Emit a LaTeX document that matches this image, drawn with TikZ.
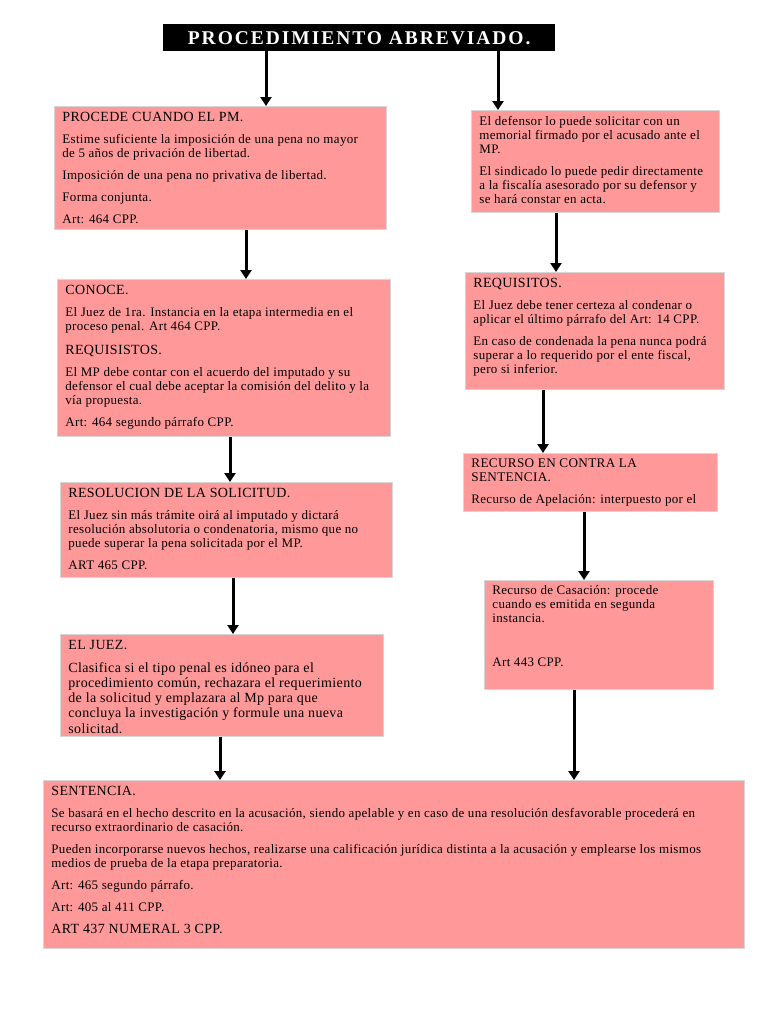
\documentclass[tikz,border=0pt]{standalone}
\usepackage{fontspec}
\setmainfont{Liberation Serif}[LetterSpace=2.5]
\newfontfamily\fuentetitulo{Liberation Serif}[LetterSpace=10]
\usetikzlibrary{arrows.meta}

\definecolor{rosa}{RGB}{255,153,153}
\definecolor{borde}{RGB}{214,214,214}

% texto de cada caja: ancho, alto, contenido
\newcommand{\caja}[3]{\parbox[t][#2][t]{#1}{\raggedright\fontsize{13bp}{14bp}\selectfont\setlength{\parskip}{8bp}#3}}
\newcommand{\encab}[1]{{\fontsize{14bp}{14bp}\selectfont #1}}

\begin{document}
\begin{tikzpicture}[x=1bp,y=-1bp,
    paso/.style={draw=borde, line width=0.8bp, fill=rosa, anchor=north west,
        inner xsep=8bp, inner ysep=5.5bp},
    flecha/.style={line width=3bp, -{Triangle[width=11bp,length=9bp]}}]
    \useasboundingbox (0,0) rectangle (768,1024);

    \node[fill=black, text=white, anchor=north west, minimum width=392bp, minimum height=27bp,
        inner sep=0pt, font=\fuentetitulo\fontsize{19.5bp}{20bp}\selectfont\bfseries] (titulo) at (163,24)
        {PROCEDIMIENTO ABREVIADO.};

    % columna izquierda
    \node[paso] (a1) at (54,106) {\caja{316bp}{112bp}{\encab{PROCEDE CUANDO EL PM.}

        Estime suficiente la imposición de una pena no mayor\\de 5 años de privación de libertad.

        Imposición de una pena no privativa de libertad.

        Forma conjunta.

        Art: 464 CPP.}};
    \node[paso] (a2) at (57,279) {\caja{317bp}{146bp}{\encab{CONOCE.}

        El Juez de 1ra. Instancia en la etapa intermedia en el\\proceso penal. Art 464 CPP.

        \vspace{2bp}\encab{REQUISISTOS.}

        El MP debe contar con el acuerdo del imputado y su\\defensor el cual debe aceptar la comisión del delito y la\\vía propuesta.

        Art: 464 segundo párrafo CPP.}};
    \node[paso] (a3) at (60,482) {\caja{316bp}{84bp}{\encab{RESOLUCION DE LA SOLICITUD.}

        El Juez sin más trámite oirá al imputado y dictará\\resolución absolutoria o condenatoria, mismo que no\\puede superar la pena solicitada por el MP.

        ART 465 CPP.}};
    \node[paso] (a4) at (60,634) {\caja{307bp}{91bp}{\encab{EL JUEZ.}

        {\fontsize{14bp}{15.2bp}\selectfont Clasifica si el tipo penal es idóneo para el\\procedimiento común, rechazara el requerimiento\\de la solicitud y emplazara al Mp para que\\concluya la investigación y formule una nueva\\solicitad.\par}}};

    % columna derecha
    \node[paso] (b1) at (471,110) {\caja{232bp}{91bp}{El defensor lo puede solicitar con un\\memorial firmado por el acusado ante el\\MP.

        El sindicado lo puede pedir directamente\\a la fiscalía asesorado por su defensor y\\se hará constar en acta.}};
    \node[paso] (b2) at (465,272) {\caja{243bp}{106bp}{\encab{REQUISITOS.}

        El Juez debe tener certeza al condenar o\\aplicar el último párrafo del Art: 14 CPP.

        En caso de condenada la pena nunca podrá\\superar a lo requerido por el ente fiscal,\\pero si inferior.}};
    \node[paso] (b3) at (463,453) {\caja{238bp}{47bp}{{\fontsize{13.2bp}{14bp}\selectfont RECURSO EN CONTRA LA\\SENTENCIA.\par}

        Recurso de Apelación: interpuesto por el}};
    \node[paso] (b4) at (484,580) {\caja{213bp}{98bp}{Recurso de Casación: procede\\cuando es emitida en segunda\\instancia.\\[30bp]
        Art 443 CPP.}};

    \node[paso] (sent) at (43,780) {\caja{685bp}{157bp}{\encab{SENTENCIA.}

        Se basará en el hecho descrito en la acusación, siendo apelable y en caso de una resolución desfavorable procederá en\\recurso extraordinario de casación.

        Pueden incorporarse nuevos hechos, realizarse una calificación jurídica distinta a la acusación y emplearse los mismos\\medios de prueba de la etapa preparatoria.

        Art: 465 segundo párrafo.

        Art: 405 al 411 CPP.

        \encab{ART 437 NUMERAL 3 CPP.}}};

    \draw[flecha] (titulo.south -| 266,0) -- (a1.north -| 266,0);
    \draw[flecha] (titulo.south -| 498,0) -- (b1.north -| 498,0);
    \draw[flecha] (a1.south -| 246,0) -- (a2.north -| 246,0);
    \draw[flecha] (a2.south -| 230,0) -- (a3.north -| 230,0);
    \draw[flecha] (a3.south -| 233,0) -- (a4.north -| 233,0);
    \draw[flecha] (a4.south -| 220,0) -- (sent.north -| 220,0);
    \draw[flecha] (b1.south -| 556,0) -- (b2.north -| 556,0);
    \draw[flecha] (b2.south -| 543,0) -- (b3.north -| 543,0);
    \draw[flecha] (b3.south -| 584,0) -- (b4.north -| 584,0);
    \draw[flecha] (b4.south -| 574,0) -- (sent.north -| 574,0);
\end{tikzpicture}
\end{document}
